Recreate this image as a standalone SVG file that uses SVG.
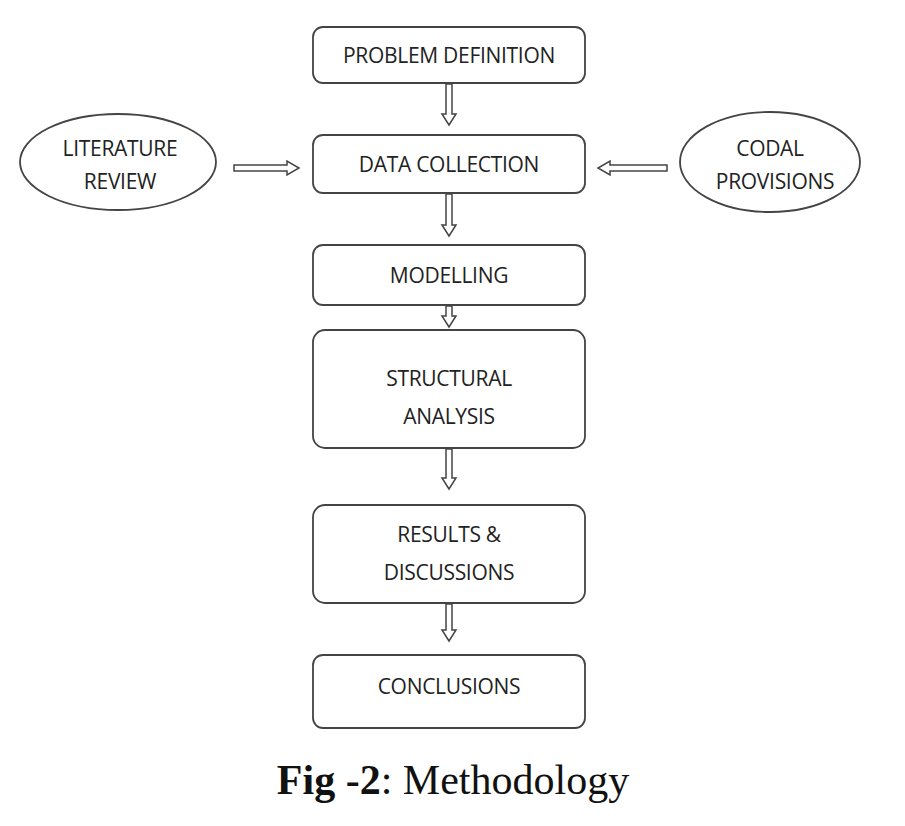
<svg xmlns="http://www.w3.org/2000/svg" width="905" height="826" viewBox="0 0 905 826">
<style>
.b{fill:#fff;stroke:#444;stroke-width:1.8}
.a{fill:#fff;stroke:#444;stroke-width:1.5}
.t{font-family:"Open Sans","Liberation Sans",sans-serif;font-size:21px;fill:#222;text-anchor:middle;letter-spacing:-0.3px}
.c{font-family:"Liberation Serif",serif;font-size:42px;fill:#111}
</style>
<rect width="905" height="826" fill="#fff"/>
<g id="n1"><rect class="b" x="313" y="27" width="272" height="56" rx="10"/><text class="t" x="449" y="63">PROBLEM DEFINITION</text></g>
<g id="n2"><rect class="b" x="313" y="135" width="272" height="58" rx="10"/><text class="t" x="449" y="172">DATA COLLECTION</text></g>
<g id="n3"><rect class="b" x="313" y="245" width="272" height="60" rx="10"/><text class="t" x="449" y="283">MODELLING</text></g>
<g id="n4"><rect class="b" x="313" y="330" width="272" height="118" rx="12"/><text class="t" x="449" y="386">STRUCTURAL</text><text class="t" x="449" y="424">ANALYSIS</text></g>
<g id="n5"><rect class="b" x="313" y="505" width="272" height="98" rx="12"/><text class="t" x="449" y="542">RESULTS &amp;</text><text class="t" x="449" y="580">DISCUSSIONS</text></g>
<g id="n6"><rect class="b" x="313" y="655" width="272" height="73" rx="10"/><text class="t" x="449" y="694">CONCLUSIONS</text></g>
<g id="e1"><ellipse class="b" cx="118" cy="162" rx="98" ry="48"/><text class="t" x="120" y="156">LITERATURE</text><text class="t" x="120" y="189">REVIEW</text></g>
<g id="e2"><ellipse class="b" cx="770" cy="162" rx="90" ry="50"/><text class="t" x="770" y="156">CODAL</text><text class="t" x="775" y="189">PROVISIONS</text></g>
<g id="connectors">
<path class="a" d="M446,84 V114 H442 L449,125 L456,114 H452 V84 Z"/>
<path class="a" d="M446,194 V225 H442 L449,236 L456,225 H452 V194 Z"/>
<path class="a" d="M446,306 V316 H442 L449,327 L456,316 H452 V306 Z"/>
<path class="a" d="M446,449 V478 H442 L449,489 L456,478 H452 V449 Z"/>
<path class="a" d="M446,604 V630 H442 L449,641 L456,630 H452 V604 Z"/>
<path class="a" d="M234,165 H287 V161 L299,168 L287,175 V171 H234 Z"/>
<path class="a" d="M667,165 H610 V161 L598,168 L610,175 V171 H667 Z"/>
</g>
<text class="c" x="453" y="794" text-anchor="middle"><tspan font-weight="bold">Fig -2</tspan>: Methodology</text>
</svg>
